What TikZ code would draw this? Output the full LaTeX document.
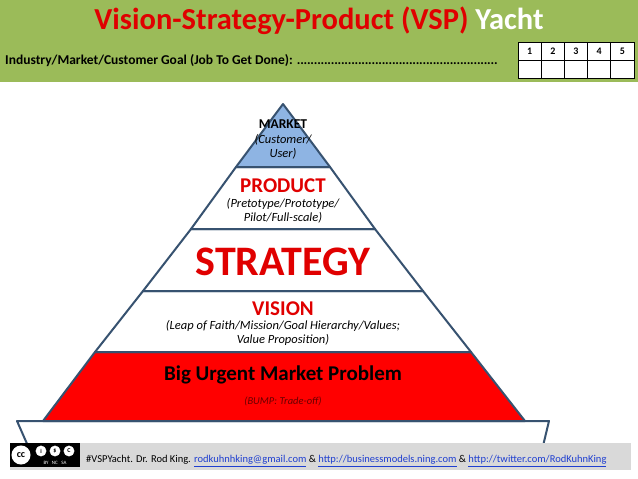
\documentclass[tikz,border=0pt]{standalone}
\usepackage{fontspec}
\setmainfont{Carlito}
\begin{document}
\begin{tikzpicture}[x=1pt,y=-1pt,
  edge/.style={draw=edgeblue,line width=2pt,line join=round},
  lbl/.style={inner sep=0pt,align=center},
  ital/.style={lbl,font=\fontsize{12.5}{14.5}\selectfont\itshape},
  redhead/.style={lbl,text=titlered,font=\fontsize{21}{23}\selectfont\bfseries}]
\definecolor{edgeblue}{HTML}{375270}
\definecolor{hgreen}{HTML}{9BBB59}
\definecolor{titlered}{HTML}{E00000}
\definecolor{mblue}{HTML}{8EB4E3}
\definecolor{fgray}{HTML}{D9D9D9}
\definecolor{linkblue}{HTML}{1F3FD0}
\useasboundingbox (0,0) rectangle (638,479);
\fill[white] (0,0) rectangle (638,479);
% header
\fill[hgreen] (0,0) rectangle (638,82);
\node[lbl,font=\fontsize{30.5}{32}\selectfont\bfseries] (title) at (319,21) {\textcolor{titlered}{Vision-Strategy-Product (VSP)} \textcolor{white}{Yacht}};
\node[lbl,anchor=west,font=\fontsize{13.5}{15}\selectfont\bfseries] (goal) at (5,61) {Industry/Market/Customer Goal (Job To Get Done): \hbox to 203pt{\leaders\hbox to 3.4pt{\hss.\hss}\hfill}};
\fill[white] (518,42) rectangle (634,78);
\draw[black,line width=0.8pt] (518,42) rectangle (634,78) (518,60) -- (634,60);
\foreach \i in {1,...,4}{\draw[black,line width=0.8pt] ({518+23.2*\i},42) -- ({518+23.2*\i},78);}
\foreach \i in {1,...,5}{\node[lbl,font=\fontsize{10}{11}\selectfont\bfseries] (c\i) at ({518+23.2*\i-11.6},51) {\i};}
% hull
\draw[edge,fill=white] (17,421) -- (549,421) -- (543,446) -- (28,446) -- cycle;
% pyramid layers
\coordinate (apex) at (283,104);
\draw[edge,fill=red] (95,352) -- (471,352) -- (525,421) -- (43,421) -- cycle;
\draw[edge,fill=white] (143,291) -- (423,291) -- (471,352) -- (95,352) -- cycle;
\draw[edge,fill=white] (191,229) -- (375,229) -- (423,291) -- (143,291) -- cycle;
\draw[edge,fill=white] (236,167) -- (330,167) -- (375,229) -- (191,229) -- cycle;
\draw[edge,fill=mblue] (apex) -- (330,167) -- (236,167) -- cycle;
% texts
\node[lbl,font=\fontsize{13.5}{15}\selectfont\bfseries] (market) at (283,124) {MARKET};
\node[ital] (cust) at (283,147) {(Customer/\\User)};
\node[redhead] (product) at (283,186) {PRODUCT};
\node[ital] (prodsub) at (283,211) {(Pretotype/Prototype/\\Pilot/Full-scale)};
\node[lbl,text=titlered,font=\fontsize{42}{44}\selectfont\bfseries] (strategy) at (283,262) {STRATEGY};
\node[redhead] (vision) at (283,309) {VISION};
\node[ital] (visub) at (283,333) {(Leap of Faith/Mission/Goal Hierarchy/Values;\\Value Proposition)};
\node[lbl,text=black,font=\fontsize{21}{23}\selectfont\bfseries] (bump) at (283,375) {Big Urgent Market Problem};
\node[lbl,text=red!40!black,font=\fontsize{10.5}{12}\selectfont\itshape] (bumpsub) at (283,401) {(BUMP: Trade-off)};
% footer
\fill[fgray] (10,443) rectangle (631,470);
\fill[black] (10,443) rectangle (80,467);
\draw[white,line width=1pt,fill=white] (21,455) circle (9);
\node[lbl,font=\fontsize{10}{10}\selectfont\bfseries] (cc) at (21,455) {cc};
\foreach \x in {41,55,69}{\draw[white,fill=white] (\x,451) circle (5.2);}
\node[lbl,font=\fontsize{6}{6}\selectfont\bfseries] (by) at (41,451) {i};
\node[lbl,font=\fontsize{6}{6}\selectfont\bfseries] (nc) at (55,451) {\$};
\node[lbl,font=\fontsize{6}{6}\selectfont\bfseries] (sa) at (69,451) {C};
\node[lbl,text=white,font=\fontsize{5}{5}\selectfont] (lic) at (55,463) {BY\ \ \ NC\ \ \ SA};
\node[lbl,anchor=west,font=\fontsize{10.5}{12}\selectfont] (foot) at (86,461) {\#VSPYacht. Dr. Rod King. \textcolor{linkblue}{\underline{rodkuhnhking@gmail.com}} \& \textcolor{linkblue}{\underline{http://businessmodels.ning.com}} \& \textcolor{linkblue}{\underline{http://twitter.com/RodKuhnKing}}};
\end{tikzpicture}
\end{document}
